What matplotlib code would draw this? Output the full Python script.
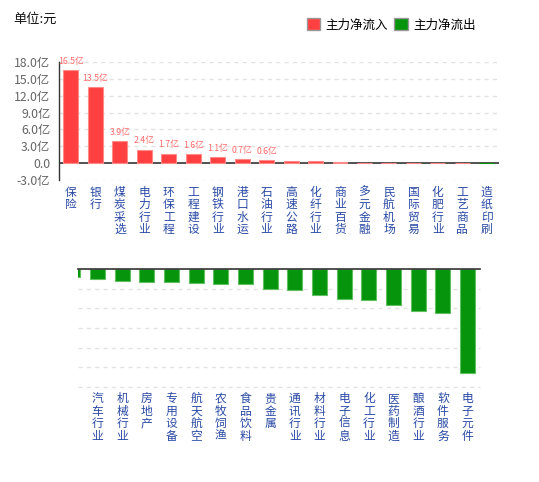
import matplotlib
matplotlib.use("Agg")
import matplotlib.pyplot as plt
from matplotlib.patches import Patch

plt.rcParams["font.family"] = ["Noto Sans CJK SC", "DejaVu Sans"]

# net inflow (top chart), values in 亿
inflow_names = ["保险", "银行", "煤炭采选", "电力行业", "环保工程", "工程建设", "钢铁行业",
                "港口水运", "石油行业", "高速公路", "化纤行业", "商业百货", "多元金融",
                "民航机场", "国际贸易", "化肥行业", "工艺商品", "造纸印刷"]
inflow_values = [16.5, 13.5, 3.9, 2.4, 1.7, 1.6, 1.1, 0.7, 0.6, 0.4, 0.3, 0.15, 0.1,
                 0.05, 0.02, 0.01, 0.0, -0.05]
inflow_labels = ["16.5亿", "13.5亿", "3.9亿", "2.4亿", "1.7亿", "1.6亿", "1.1亿", "0.7亿", "0.6亿",
                 "", "", "", "", "", "", "", "", ""]

# net outflow (bottom chart, scrolled so the first bar is cut off)
outflow_names = ["有色金属", "汽车行业", "机械行业", "房地产", "专用设备", "航天航空", "农牧饲渔",
                 "食品饮料", "贵金属", "通讯行业", "材料行业", "电子信息", "化工行业",
                 "医药制造", "酿酒行业", "软件服务", "电子元件"]
outflow_values = [-1.2, -1.5, -1.75, -1.9, -2.0, -2.15, -2.2, -2.3, -3.0, -3.1, -4.0,
                  -4.55, -4.65, -5.45, -6.35, -6.75, -15.85]

y_ticks = [-3, 0, 3, 6, 9, 12, 15, 18]
y_tick_labels = ["-3.0亿", "0.0", "3.0亿", "6.0亿", "9.0亿", "12.0亿", "15.0亿", "18.0亿"]
out_grid = [-18, -15, -12, -9, -6, -3]

RED = "#ff4040"
GREEN = "#06940c"
LABEL_BLUE = "#2a4aa5"
GRID = "#e2e2e2"

fig = plt.figure(figsize=(5.39, 4.82), dpi=100)

# ---- top chart
ax1 = fig.add_axes([0.1089, 0.6266, 0.8169, 0.2448])
x1 = list(range(len(inflow_names)))
colors1 = [RED if v >= 0 else GREEN for v in inflow_values]
edges1 = ["#ff8a8a" if v >= 0 else GREEN for v in inflow_values]
ax1.bar(x1, inflow_values, width=0.61, color=colors1, edgecolor=edges1, linewidth=0.8, zorder=5)
for xi, v, lab in zip(x1, inflow_values, inflow_labels):
    if lab:
        ax1.annotate(lab, (xi, v), xytext=(0, 3), textcoords="offset points",
                     ha="center", va="bottom", fontsize=6.3, color="#ff6a6a")
ax1.set_yticks(y_ticks, y_tick_labels)
ax1.set_xticks(x1, ["\n".join(n) for n in inflow_names])
ax1.set_xlim(-0.5, len(inflow_names) - 0.5)
ax1.set_ylim(-3, 18)
for t in y_ticks:
    if t != 0:
        ax1.axhline(t, color=GRID, lw=1, ls=(0, (3, 3)), zorder=1)
ax1.axhline(0, color="#333333", lw=1.2, zorder=4)
for side in ["top", "right", "bottom"]:
    ax1.spines[side].set_visible(False)
ax1.spines["left"].set_color("#333333")
ax1.spines["left"].set_linewidth(1.0)
ax1.tick_params(axis="y", length=0, pad=6, labelsize=8.8, labelcolor="#666666")
ax1.tick_params(axis="x", length=0, pad=4, labelsize=8.5, labelcolor=LABEL_BLUE)
for lab in ax1.get_xticklabels():
    lab.set_linespacing(0.95)
    lab.set_verticalalignment("top")

# ---- bottom chart
ax2 = fig.add_axes([0.1447, 0.1977, 0.7458, 0.2436])
x2 = list(range(len(outflow_names)))
ax2.bar(x2, outflow_values, width=0.61, color=GREEN, edgecolor="#5fc05f", linewidth=0.8, zorder=3)
ax2.set_yticks([])
ax2.set_xticks(x2, ["\n".join(n) for n in outflow_names])
ax2.set_xlim(0.21, len(outflow_names) - 0.5)
ax2.set_ylim(-18, 0)
for t in out_grid:
    ax2.axhline(t, color=GRID, lw=1, ls=(0, (3, 3)), zorder=1, clip_on=False)
ax2.axhline(0, color="#333333", lw=1.2, zorder=4, clip_on=False)
for side in ["top", "right", "bottom", "left"]:
    ax2.spines[side].set_visible(False)
ax2.tick_params(axis="x", length=0, pad=4, labelsize=8.5, labelcolor=LABEL_BLUE)
for lab in ax2.get_xticklabels():
    lab.set_linespacing(0.95)
    lab.set_verticalalignment("top")

# ---- header
fig.text(13 / 539, 1 - 19 / 482, "单位:元", va="center", ha="left", fontsize=9.5, color="#111111")
handles = [Patch(facecolor=RED, edgecolor="#999999", label="主力净流入"),
           Patch(facecolor=GREEN, edgecolor="#999999", label="主力净流出")]
fig.legend(handles=handles, loc="center", bbox_to_anchor=(391 / 539, 1 - 25 / 482), ncol=2,
           frameon=False, fontsize=9, handlelength=1.1, handleheight=1.1,
           handletextpad=0.4, columnspacing=0.5, borderpad=0)

fig.savefig("out.png", dpi=100)
plt.close(fig)
